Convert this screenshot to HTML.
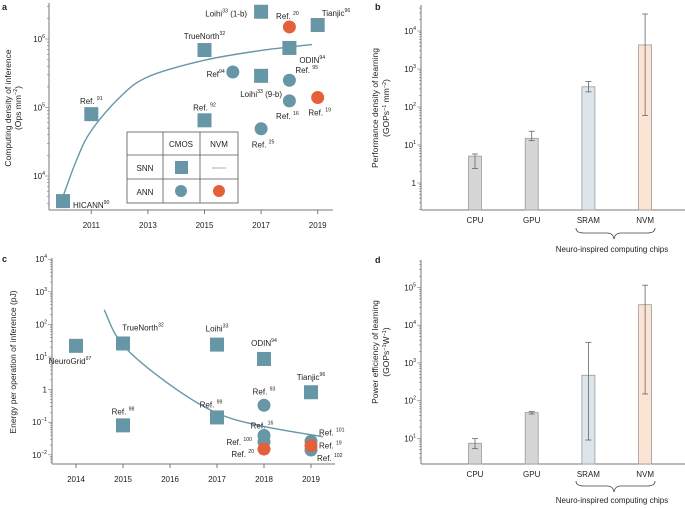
<!DOCTYPE html>
<html><head><meta charset="utf-8"><style>
html,body{margin:0;padding:0;background:#fff}
svg{display:block;font-family:"Liberation Sans",sans-serif}
text{fill:#222}
</style></head><body>
<svg id="fig" width="685" height="508" viewBox="0 0 685 508" xmlns="http://www.w3.org/2000/svg">
<g id="root"></g>
</svg>
<script>
// ---------- Panel a data ----------
const aYears=[2010,2011,2015,2015,2016,2017,2017,2017,2018,2018,2018,2018,2019,2019];
const aValues=[4.3e3,8e4,6.5e4,6.9e5,3.3e5,2.5e6,2.9e5,4.9e4,7.4e5,1.5e6,2.5e5,1.25e5,1.4e5,1.6e6];
const aKinds=['sq','sq','sq','sq','ci','sq','sq','ci','sq','or','ci','ci','or','sq'];
const aLabels=['HICANN|90','Ref. |91','Ref. |92','TrueNorth|32','Ref|94','Loihi|33| (1-b)','Loihi|33| (9-b)','Ref. |25','ODIN|94','Ref. |20','Ref. |95','Ref. |16','Ref. |19','Tianjic|96'];
const aCurveX=[2010,2010.5,2011,2012,2013,2015,2017,2018.8];
const aCurveY=[5e3,1.8e4,4.6e4,1.4e5,2.8e5,4.9e5,6.8e5,8.3e5];
const aXTicks=[2011,2013,2015,2017,2019];
const aYTicks=[4,5,6];
// ---------- Panel c data ----------
const cYears=[2014,2015,2015,2017,2017,2018,2018,2018,2018,2018,2019,2019,2019,2019];
const cValues=[22,26,0.08,24,0.14,8.7,0.33,0.039,0.025,0.015,0.83,0.026,0.014,0.019];
const cKinds=['sq','sq','sq','sq','sq','sq','ci','ci','ci','or','sq','ci','ci','or'];
const cLabels=['NeuroGrid|97','TrueNorth|32','Ref. |98','Loihi|33','Ref. |99','ODIN|94','Ref. |93','Ref. |16','Ref. |100','Ref. |20','Tianjic|96','Ref. |101','Ref. |102','Ref. |19'];
const cCurveX=[2014.6,2015,2016,2017,2018,2019.25];
const cCurveY=[280,23,1.4,0.19,0.074,0.036];
const cXTicks=[2014,2015,2016,2017,2018,2019];
const cYTicks=[-2,-1,0,1,2,3,4];
// ---------- Panel b data ----------
const barCats=['CPU','GPU','SRAM','NVM'];
const bValues=[5.1,15,340,4300];
const bErrLo=[2.4,13,250,60];
const bErrHi=[5.8,23,470,28000];
const bYTicks=[0,1,2,3,4];
// ---------- Panel d data ----------
const dValues=[7.4,48,470,35000];
const dErrLo=[5.3,44,9,150];
const dErrHi=[9.8,51,3500,115000];
const dYTicks=[1,2,3,4,5];

const NS='http://www.w3.org/2000/svg';
const root=document.getElementById('root');
const TEAL='#6796a6', ORANGE='#e2613b', AX='#777';
function el(tag,attrs,parent){const e=document.createElementNS(NS,tag);for(const k in attrs)e.setAttribute(k,attrs[k]);(parent||root).appendChild(e);return e;}
function txt(s,x,y,size,anchor,parent){const t=el('text',{x:x,y:y,'font-size':size,'text-anchor':anchor||'start'},parent);t.textContent=s;return t;}
function supTxt(base,sup,rest,x,y,size,anchor,parent){
  const t=el('text',{x:x,y:y,'font-size':size,'text-anchor':anchor||'start'},parent);
  const a=document.createElementNS(NS,'tspan');a.textContent=base;t.appendChild(a);
  if(sup){const b=document.createElementNS(NS,'tspan');b.setAttribute('dy',-4);b.setAttribute('font-size',size*0.65);b.textContent=sup;t.appendChild(b);}
  if(rest){const c=document.createElementNS(NS,'tspan');c.setAttribute('dy',4);c.textContent=rest;t.appendChild(c);}
  return t;}
function powLabel(p,x,y,g){
  if(p===0){return txt('1',x,y,8,'end',g);}
  return supTxt('10',String(p).replace('-','−'),'',x,y,8,'end',g);}
function logAxisY(g,x,yFn,pMin,pMax,top,bottom){
  el('line',{x1:x,y1:top,x2:x,y2:bottom,stroke:AX,'stroke-width':1},g);
  for(let p=pMin-1;p<=pMax;p++){for(let m=1;m<10;m++){const v=m*Math.pow(10,p);const y=yFn(v);if(y<top||y>bottom)continue;
    el('line',{x1:x-(m===1?4:2),y1:y,x2:x,y2:y,stroke:AX,'stroke-width':0.6},g);}}}
function smoothPath(pts){
  let d='M'+pts[0][0]+','+pts[0][1];
  for(let i=0;i<pts.length-1;i++){
    const p0=pts[Math.max(0,i-1)],p1=pts[i],p2=pts[i+1],p3=pts[Math.min(pts.length-1,i+2)];
    const c1=[p1[0]+(p2[0]-p0[0])/6,p1[1]+(p2[1]-p0[1])/6];
    const c2=[p2[0]-(p3[0]-p1[0])/6,p2[1]-(p3[1]-p1[1])/6];
    d+=' C'+c1[0]+','+c1[1]+' '+c2[0]+','+c2[1]+' '+p2[0]+','+p2[1];}
  return d;}
function marker(g,kind,x,y){
  if(kind==='sq'){return el('rect',{x:x-7,y:y-7,width:14,height:14,fill:TEAL},g);}
  return el('circle',{cx:x,cy:y,r:6.5,fill:kind==='or'?ORANGE:TEAL},g);}

// ---------- Panel a ----------
(function(){
  const g=el('g',{});
  const x=v=>63+(v-2010)*28.3, y=v=>176-(Math.log10(v)-4)*68.5;
  const t=txt('a',2,10,9,'start',g);t.setAttribute('font-weight','bold');
  logAxisY(g,49,y,3,6,3,210);
  el('line',{x1:49,y1:210,x2:333,y2:210,stroke:AX},g);
  aXTicks.forEach(v=>{el('line',{x1:x(v),y1:210,x2:x(v),y2:214,stroke:AX},g);txt(String(v),x(v),228,8,'middle',g);});
  aYTicks.forEach(p=>powLabel(p,45,y(Math.pow(10,p))+3,g));
  const yt=el('text',{x:0,y:0,'font-size':8.5,'text-anchor':'middle',transform:'translate(11,108) rotate(-90)'},g);yt.textContent='Computing density of inference';
  
  supTxt('(Ops mm','−2',')',0,0,8.5,'middle',g).setAttribute('transform','translate(21,108) rotate(-90)');
  const c=el('path',{d:smoothPath(aCurveX.map((v,i)=>[x(v),y(aCurveY[i])])),fill:'none',stroke:TEAL,'stroke-width':1.4},g);
  
  const L=el('g',{},g);
  el('rect',{x:127,y:132,width:111,height:71,fill:'#fff',stroke:'#555','stroke-width':0.8},L);
  [163,200].forEach(v=>el('line',{x1:v,y1:132,x2:v,y2:203,stroke:'#555','stroke-width':0.8},L));
  [155,179].forEach(v=>el('line',{x1:127,y1:v,x2:238,y2:v,stroke:'#555','stroke-width':0.8},L));
  txt('CMOS',181,147,8,'middle',L);txt('NVM',219,147,8,'middle',L);
  txt('SNN',145,171,8,'middle',L);txt('ANN',145,195,8,'middle',L);
  el('rect',{x:175,y:161,width:13,height:13,fill:TEAL},L);
  el('line',{x1:212,y1:168,x2:226,y2:168,stroke:'#999','stroke-width':0.8},L);
  el('circle',{cx:181,cy:191,r:6,fill:TEAL},L);el('circle',{cx:219,cy:191,r:6,fill:ORANGE},L);
  const offs={0:[10,4,'start'],1:[0,-13,'middle'],2:[0,-13,'middle'],3:[0,-14,'middle'],4:[-8,2,'end'],5:[-14,2,'end'],6:[0,18,'middle'],7:[2,16,'middle'],8:[10,12,'start'],9:[-2,-11,'middle'],10:[6,-10,'start'],11:[-2,15,'middle'],12:[2,15,'middle'],13:[4,-12,'start']};
  aYears.forEach((v,i)=>{const px=x(v),py=y(aValues[i]);const m=marker(g,aKinds[i],px,py);
    
    const p=aLabels[i].split('|');const o=offs[i];
    supTxt(p[0],p[1],p[2]||'',px+o[0],py+o[1]+3,8,o[2],g);});
})();

// ---------- Panel c ----------
(function(){
  const g=el('g',{});
  const x=v=>76+(v-2014)*47, y=v=>357-(Math.log10(v)-1)*32.6;
  const t=txt('c',2,262,9,'start',g);t.setAttribute('font-weight','bold');
  logAxisY(g,52,y,-2,4,258,464);
  el('line',{x1:52,y1:464,x2:335,y2:464,stroke:AX},g);
  cXTicks.forEach(v=>{el('line',{x1:x(v),y1:464,x2:x(v),y2:468,stroke:AX},g);txt(String(v),x(v),482,8,'middle',g);});
  cYTicks.forEach(p=>powLabel(p,47,y(Math.pow(10,p))+3,g));
  const yt=el('text',{x:0,y:0,'font-size':8.5,'text-anchor':'middle',transform:'translate(16,362) rotate(-90)'},g);yt.textContent='Energy per operation of inference (pJ)';
  
  const c=el('path',{d:smoothPath(cCurveX.map((v,i)=>[x(v),y(cCurveY[i])])),fill:'none',stroke:TEAL,'stroke-width':1.4},g);
  
  const offs={0:[-6,15,'middle'],1:[20,-16,'middle'],2:[0,-14,'middle'],3:[0,-16,'middle'],4:[-6,-13,'middle'],5:[0,-16,'middle'],6:[0,-14,'middle'],7:[-2,-10,'middle'],8:[-12,0,'end'],9:[-10,5,'end'],10:[0,-15,'middle'],11:[8,-9,'start'],12:[6,8,'start'],13:[8,0,'start']};
  cYears.forEach((v,i)=>{const px=x(v),py=y(cValues[i]);const m=marker(g,cKinds[i],px,py);
    
    const p=cLabels[i].split('|');const o=offs[i];
    supTxt(p[0],p[1],p[2]||'',px+o[0],py+o[1]+3,8,o[2],g);});
})();

// ---------- Bar panels ----------
function barPanel(name,letter,ly,axTop,axBottom,yFn,pMin,pMax,ticks,vals,lo,hi,title1,title2,titleY,braceOff,textOff){
  const g=el('g',{});
  const t=txt(letter,375,ly,9,'start',g);t.setAttribute('font-weight','bold');
  logAxisY(g,421,yFn,pMin,pMax,axTop,axBottom);
  el('line',{x1:421,y1:axBottom,x2:685,y2:axBottom,stroke:AX},g);
  ticks.forEach(p=>powLabel(p,416,yFn(Math.pow(10,p))+3,g));
  const yt=el('text',{x:0,y:0,'font-size':8.5,'text-anchor':'middle',transform:'translate(378,'+titleY+') rotate(-90)'},g);yt.textContent=title1;
  
  const t2=el('text',{x:0,y:0,'font-size':8.5,'text-anchor':'middle',transform:'translate(389,'+titleY+') rotate(-90)'},g);t2.innerHTML=title2;
  const fills=['#d6d6d6','#d6d6d6','#dce5ea','#fce4d4'];
  const cx=i=>475+i*56.7;
  barCats.forEach((c,i)=>{
    const top=yFn(vals[i]);
    const r=el('rect',{x:cx(i)-6.5,y:top,width:13,height:axBottom-top,fill:fills[i],stroke:'#9a9a9a','stroke-width':0.8},g);
    
    const y1=yFn(hi[i]),y2=yFn(lo[i]);
    el('line',{x1:cx(i),y1:y1,x2:cx(i),y2:y2,stroke:'#666','stroke-width':0.8},g);
    el('line',{x1:cx(i)-3,y1:y1,x2:cx(i)+3,y2:y1,stroke:'#666','stroke-width':0.8},g);
    el('line',{x1:cx(i)-3,y1:y2,x2:cx(i)+3,y2:y2,stroke:'#666','stroke-width':0.8},g);
    txt(c,cx(i),axBottom+13,8,'middle',g);
  });
  const by=axBottom+braceOff;
  el('path',{d:`M576,${by} q0,5 8,5 L607,${by+5} q6,0 7,6 q1,-6 7,-6 L647,${by+5} q8,0 8,-5`,fill:'none',stroke:'#444','stroke-width':0.8},g);
  txt('Neuro-inspired computing chips',612,by+textOff,8,'middle',g);
}
barPanel('panel-b-chart','b',10,5,210,v=>145-(Math.log10(v)-1)*38,-1,4,[0,1,2,3,4],bValues,bErrLo,bErrHi,
  'Performance density of learning','(GOPs<tspan dy="-3" font-size="5.5">−1</tspan><tspan dy="3"> mm</tspan><tspan dy="-3" font-size="5.5">−2</tspan><tspan dy="3">)</tspan>',108,18,24);
barPanel('panel-d-chart','d',263,260,464,v=>438.3-(Math.log10(v)-1)*37.7,0,5,[1,2,3,4,5],dValues,dErrLo,dErrHi,
  'Power efficiency of learning','(GOPs<tspan dy="-3" font-size="5.5">−1</tspan><tspan dy="3">W</tspan><tspan dy="-3" font-size="5.5">−1</tspan><tspan dy="3">)</tspan>',352,17,22);
</script>
</body></html>
